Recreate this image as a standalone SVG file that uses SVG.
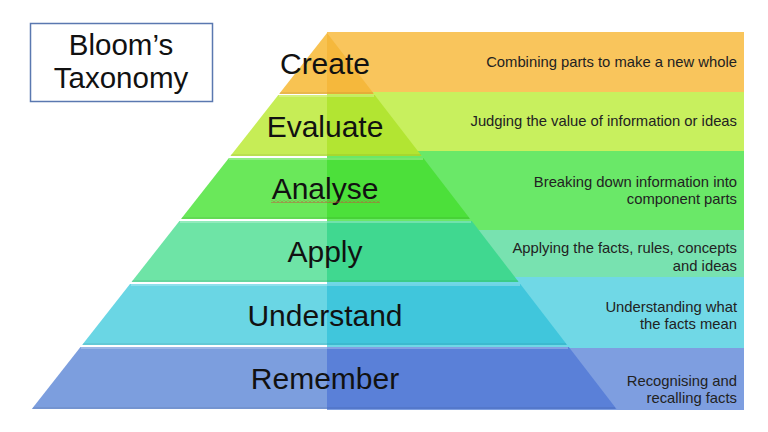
<svg xmlns="http://www.w3.org/2000/svg" width="768" height="432" viewBox="0 0 768 432">
<defs>
<style>
.lbl{font-family:"Liberation Sans",Arial,sans-serif;font-size:30px;fill:#111;text-anchor:middle}
.desc{font-family:"Liberation Sans",Arial,sans-serif;font-size:14.8px;fill:#222;text-anchor:end}
.ttl{font-family:"Liberation Sans",Arial,sans-serif;font-size:29.5px;fill:#111;text-anchor:middle}
.hi{stroke:#ffffff;stroke-opacity:0.25;stroke-width:2;fill:none}
.sh{stroke:#000;stroke-opacity:0.06;stroke-width:2;fill:none}
</style>
<pattern id="wave" width="4" height="3" patternUnits="userSpaceOnUse">
<path d="M0 2.5 L2 0.5 L4 2.5" fill="none" stroke="#d0403a" stroke-width="0.9"/>
</pattern>
</defs>
<rect width="768" height="432" fill="#ffffff"/>
<g id="title">
<rect x="30.5" y="23.5" width="182" height="78" fill="#ffffff" stroke="#5a78b0" stroke-width="1.5"/>
<text class="ttl" x="121" y="55">Bloom’s</text>
<text class="ttl" x="121" y="88">Taxonomy</text>
</g>
<g id="bands">
<rect x="327" y="32" width="417" height="60" fill="#f9c55c"/>
<rect x="327" y="92" width="417" height="59" fill="#c8f05e"/>
<rect x="327" y="151" width="417" height="79" fill="#6ae868"/>
<rect x="327" y="230" width="417" height="47" fill="#78e2b0"/>
<rect x="327" y="277" width="417" height="71" fill="#70d8e6"/>
<rect x="327" y="348" width="417" height="62" fill="#7e9ee0"/>
</g>
<g id="create">
<polygon points="327,33 327,94 279.1,94" fill="#f8c352"/>
<polygon points="327,33 374,94 327,94" fill="#f5b83c"/>
<line class="sh" x1="280" y1="93" x2="373" y2="93"/>
<text class="lbl" x="325" y="74">Create</text>
<text class="desc" x="737" y="67">Combining parts to make a new whole</text>
</g>
<g id="evaluate">
<polygon points="278.3,95 327,95 327,156 230.4,156" fill="#c6ed56"/>
<polygon points="327,95 374.7,95 421.7,156 327,156" fill="#b2e532"/>
<line class="hi" x1="279" y1="96" x2="374" y2="96"/>
<line class="sh" x1="231" y1="155" x2="421" y2="155"/>
<text class="lbl" x="325" y="137">Evaluate</text>
<text class="desc" x="737" y="126">Judging the value of information or ideas</text>
</g>
<g id="analyse">
<polygon points="228.9,158 327,158 327,219 181,219" fill="#6ae85a"/>
<polygon points="327,158 423.3,158 470.2,219 327,219" fill="#4ce03a"/>
<line class="hi" x1="229" y1="159" x2="423" y2="159"/>
<line class="sh" x1="182" y1="218" x2="469" y2="218"/>
<text class="lbl" x="325" y="199">Analyse</text>
<rect x="271" y="200" width="109" height="3" fill="url(#wave)"/>
<text class="desc" x="737" y="187">Breaking down information into</text>
<text class="desc" x="737" y="204">component parts</text>
</g>
<g id="apply">
<polygon points="179.4,221 327,221 327,282 131.5,282" fill="#6ee4a6"/>
<polygon points="327,221 471.8,221 518.7,282 327,282" fill="#40d890"/>
<line class="hi" x1="180" y1="222" x2="471" y2="222"/>
<line class="sh" x1="132" y1="281" x2="518" y2="281"/>
<text class="lbl" x="325" y="262">Apply</text>
<text class="desc" x="737" y="253">Applying the facts, rules, concepts</text>
<text class="desc" x="737" y="271">and ideas</text>
</g>
<g id="understand">
<polygon points="130,284 327,284 327,345 82.1,345" fill="#6ad6e4"/>
<polygon points="327,284 520.3,284 567.2,345 327,345" fill="#40c6dc"/>
<line class="hi" x1="131" y1="285" x2="520" y2="285"/>
<line class="sh" x1="83" y1="344" x2="566" y2="344"/>
<text class="lbl" x="325" y="326">Understand</text>
<text class="desc" x="737" y="312">Understanding what</text>
<text class="desc" x="737" y="329">the facts mean</text>
</g>
<g id="remember">
<polygon points="80.5,347 327,347 327,409 31.8,409" fill="#7c9ede"/>
<polygon points="327,347 568.8,347 616.5,409 327,409" fill="#5a80d8"/>
<line class="hi" x1="81" y1="348" x2="568" y2="348"/>
<line class="sh" x1="33" y1="408" x2="615" y2="408"/>
<text class="lbl" x="325" y="389">Remember</text>
<text class="desc" x="737" y="386">Recognising and</text>
<text class="desc" x="737" y="403">recalling facts</text>
</g>
<g id="connectors"/>
</svg>
